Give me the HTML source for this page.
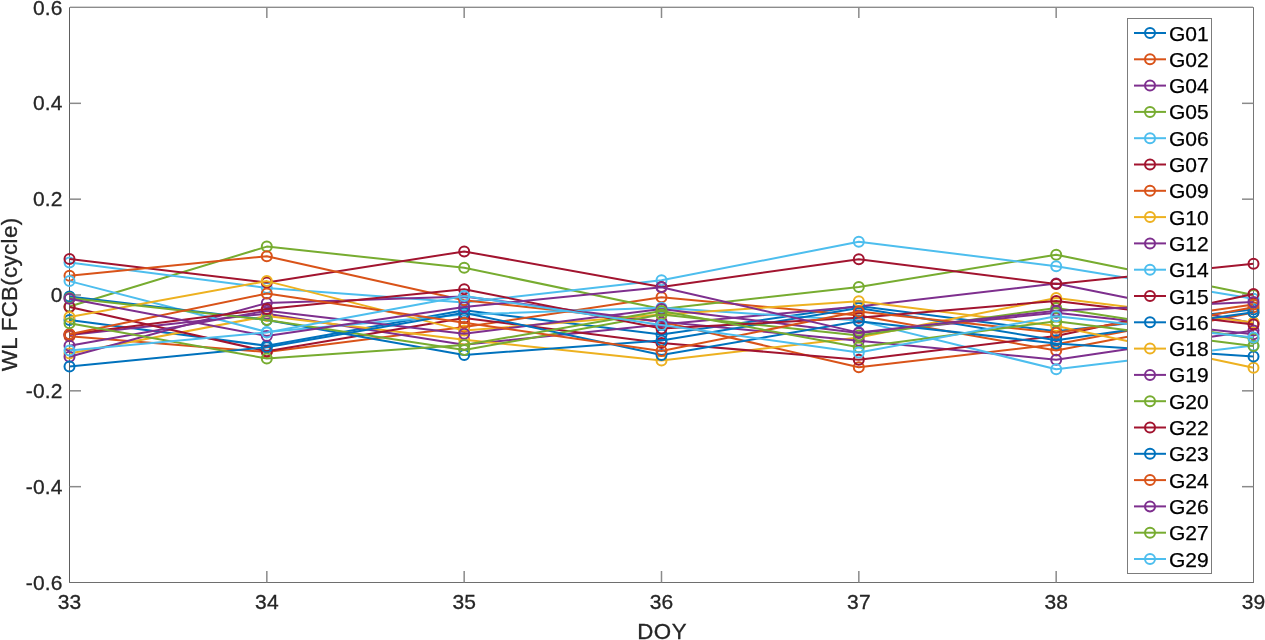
<!DOCTYPE html>
<html lang="en"><head><meta charset="utf-8"><title>WL FCB</title>
<style>html,body{margin:0;padding:0;background:#fff;overflow:hidden}svg{display:block}text{font-family:"Liberation Sans",Arial,Helvetica,sans-serif}.tk{font-size:21px;fill:#262626;letter-spacing:0.15px;stroke:#262626;stroke-width:0.3px}.lb{font-size:22.3px;fill:#262626;letter-spacing:0.35px;stroke:#262626;stroke-width:0.3px}.lg{font-size:21px;fill:#000;stroke:#000;stroke-width:0.25px}</style></head><body>
<svg width="1265" height="640" viewBox="0 0 1265 640">
<rect x="0" y="0" width="1265" height="640" fill="#fff"/>
<g fill="none" stroke-width="1">
<line x1="69.5" y1="7" x2="69.5" y2="583" stroke="#5e5e5e" shape-rendering="crispEdges"/>
<line x1="69" y1="582.5" x2="1254" y2="582.5" stroke="#6e6e6e" shape-rendering="crispEdges"/>
<line x1="1253.5" y1="7" x2="1253.5" y2="583" stroke="#767676" shape-rendering="crispEdges"/>
<line x1="69" y1="7.5" x2="1254" y2="7.5" stroke="#8c8c8c" shape-rendering="crispEdges"/>
<line x1="70" y1="6.5" x2="1253" y2="6.5" stroke="#d4d4d4" shape-rendering="crispEdges"/>
<g stroke="#8a8a8a" stroke-width="1.5">
<line x1="266.83" y1="582.5" x2="266.83" y2="571.0"/>
<line x1="266.83" y1="7.5" x2="266.83" y2="18.0"/>
<line x1="464.17" y1="582.5" x2="464.17" y2="571.0"/>
<line x1="464.17" y1="7.5" x2="464.17" y2="18.0"/>
<line x1="661.50" y1="582.5" x2="661.50" y2="571.0"/>
<line x1="661.50" y1="7.5" x2="661.50" y2="18.0"/>
<line x1="858.83" y1="582.5" x2="858.83" y2="571.0"/>
<line x1="858.83" y1="7.5" x2="858.83" y2="18.0"/>
<line x1="1056.17" y1="582.5" x2="1056.17" y2="571.0"/>
<line x1="1056.17" y1="7.5" x2="1056.17" y2="18.0"/>
<line x1="69.5" y1="103.33" x2="81.0" y2="103.33"/>
<line x1="1253.5" y1="103.33" x2="1242.0" y2="103.33"/>
<line x1="69.5" y1="199.17" x2="81.0" y2="199.17"/>
<line x1="1253.5" y1="199.17" x2="1242.0" y2="199.17"/>
<line x1="69.5" y1="295.00" x2="81.0" y2="295.00"/>
<line x1="1253.5" y1="295.00" x2="1242.0" y2="295.00"/>
<line x1="69.5" y1="390.83" x2="81.0" y2="390.83"/>
<line x1="1253.5" y1="390.83" x2="1242.0" y2="390.83"/>
<line x1="69.5" y1="486.67" x2="81.0" y2="486.67"/>
<line x1="1253.5" y1="486.67" x2="1242.0" y2="486.67"/>
</g></g>
<text class="tk" x="69.6" y="609.0" text-anchor="middle">33</text>
<text class="tk" x="266.9" y="609.0" text-anchor="middle">34</text>
<text class="tk" x="464.3" y="609.0" text-anchor="middle">35</text>
<text class="tk" x="661.6" y="609.0" text-anchor="middle">36</text>
<text class="tk" x="858.9" y="609.0" text-anchor="middle">37</text>
<text class="tk" x="1056.3" y="609.0" text-anchor="middle">38</text>
<text class="tk" x="1253.6" y="609.0" text-anchor="middle">39</text>
<text class="tk" x="62.6" y="14.6" text-anchor="end">0.6</text>
<text class="tk" x="62.6" y="110.4" text-anchor="end">0.4</text>
<text class="tk" x="62.6" y="206.3" text-anchor="end">0.2</text>
<text class="tk" x="62.6" y="302.1" text-anchor="end">0</text>
<text class="tk" x="62.6" y="397.9" text-anchor="end">-0.2</text>
<text class="tk" x="62.6" y="493.8" text-anchor="end">-0.4</text>
<text class="tk" x="62.6" y="589.6" text-anchor="end">-0.6</text>
<text class="lb" style="letter-spacing:0.6px" x="662.2" y="639" text-anchor="middle">DOY</text>
<text class="lb" transform="translate(17.4,294.4) rotate(-90)" text-anchor="middle">WL FCB(cycle)</text>
<defs><clipPath id="c"><rect x="69.5" y="7.5" width="1184.0" height="575.0"/></clipPath></defs>
<g fill="none" stroke-width="2.0" stroke-linejoin="round">
<g stroke="#0072BD"><polyline clip-path="url(#c)" points="69.5,319.9 266.8,345.8 464.2,310.3 661.5,334.6 858.8,306.0 1056.2,331.3 1253.5,309.4"/>
<circle cx="69.5" cy="319.9" r="5.0"/>
<circle cx="266.8" cy="345.8" r="5.0"/>
<circle cx="464.2" cy="310.3" r="5.0"/>
<circle cx="661.5" cy="334.6" r="5.0"/>
<circle cx="858.8" cy="306.0" r="5.0"/>
<circle cx="1056.2" cy="331.3" r="5.0"/>
<circle cx="1253.5" cy="309.4" r="5.0"/>
</g>
<g stroke="#D95319"><polyline clip-path="url(#c)" points="69.5,336.2 266.8,352.0 464.2,327.1 661.5,297.2 858.8,315.6 1056.2,350.6 1253.5,312.5"/>
<circle cx="69.5" cy="336.2" r="5.0"/>
<circle cx="266.8" cy="352.0" r="5.0"/>
<circle cx="464.2" cy="327.1" r="5.0"/>
<circle cx="661.5" cy="297.2" r="5.0"/>
<circle cx="858.8" cy="315.6" r="5.0"/>
<circle cx="1056.2" cy="350.6" r="5.0"/>
<circle cx="1253.5" cy="312.5" r="5.0"/>
</g>
<g stroke="#7E2F8E"><polyline clip-path="url(#c)" points="69.5,335.0 266.8,313.7 464.2,344.7 661.5,324.4 858.8,306.5 1056.2,283.5 1253.5,323.3"/>
<circle cx="69.5" cy="335.0" r="5.0"/>
<circle cx="266.8" cy="313.7" r="5.0"/>
<circle cx="464.2" cy="344.7" r="5.0"/>
<circle cx="661.5" cy="324.4" r="5.0"/>
<circle cx="858.8" cy="306.5" r="5.0"/>
<circle cx="1056.2" cy="283.5" r="5.0"/>
<circle cx="1253.5" cy="323.3" r="5.0"/>
</g>
<g stroke="#77AC30"><polyline clip-path="url(#c)" points="69.5,306.5 266.8,246.6 464.2,267.7 661.5,309.1 858.8,286.9 1056.2,254.7 1253.5,295.0"/>
<circle cx="69.5" cy="306.5" r="5.0"/>
<circle cx="266.8" cy="246.6" r="5.0"/>
<circle cx="464.2" cy="267.7" r="5.0"/>
<circle cx="661.5" cy="309.1" r="5.0"/>
<circle cx="858.8" cy="286.9" r="5.0"/>
<circle cx="1056.2" cy="254.7" r="5.0"/>
<circle cx="1253.5" cy="295.0" r="5.0"/>
</g>
<g stroke="#4DBEEE"><polyline clip-path="url(#c)" points="69.5,262.4 266.8,288.0 464.2,302.4 661.5,280.3 858.8,241.8 1056.2,266.2 1253.5,298.8"/>
<circle cx="69.5" cy="262.4" r="5.0"/>
<circle cx="266.8" cy="288.0" r="5.0"/>
<circle cx="464.2" cy="302.4" r="5.0"/>
<circle cx="661.5" cy="280.3" r="5.0"/>
<circle cx="858.8" cy="241.8" r="5.0"/>
<circle cx="1056.2" cy="266.2" r="5.0"/>
<circle cx="1253.5" cy="298.8" r="5.0"/>
</g>
<g stroke="#A2142F"><polyline clip-path="url(#c)" points="69.5,259.0 266.8,282.5 464.2,251.4 661.5,286.9 858.8,259.3 1056.2,284.0 1253.5,263.8"/>
<circle cx="69.5" cy="259.0" r="5.0"/>
<circle cx="266.8" cy="282.5" r="5.0"/>
<circle cx="464.2" cy="251.4" r="5.0"/>
<circle cx="661.5" cy="286.9" r="5.0"/>
<circle cx="858.8" cy="259.3" r="5.0"/>
<circle cx="1056.2" cy="284.0" r="5.0"/>
<circle cx="1253.5" cy="263.8" r="5.0"/>
</g>
<g stroke="#D95319"><polyline clip-path="url(#c)" points="69.5,275.8 266.8,256.2 464.2,300.3 661.5,321.8 858.8,367.2 1056.2,344.3 1253.5,307.2"/>
<circle cx="69.5" cy="275.8" r="5.0"/>
<circle cx="266.8" cy="256.2" r="5.0"/>
<circle cx="464.2" cy="300.3" r="5.0"/>
<circle cx="661.5" cy="321.8" r="5.0"/>
<circle cx="858.8" cy="367.2" r="5.0"/>
<circle cx="1056.2" cy="344.3" r="5.0"/>
<circle cx="1253.5" cy="307.2" r="5.0"/>
</g>
<g stroke="#EDB120"><polyline clip-path="url(#c)" points="69.5,353.4 266.8,316.1 464.2,339.7 661.5,360.5 858.8,337.6 1056.2,298.1 1253.5,322.5"/>
<circle cx="69.5" cy="353.4" r="5.0"/>
<circle cx="266.8" cy="316.1" r="5.0"/>
<circle cx="464.2" cy="339.7" r="5.0"/>
<circle cx="661.5" cy="360.5" r="5.0"/>
<circle cx="858.8" cy="337.6" r="5.0"/>
<circle cx="1056.2" cy="298.1" r="5.0"/>
<circle cx="1253.5" cy="322.5" r="5.0"/>
</g>
<g stroke="#7E2F8E"><polyline clip-path="url(#c)" points="69.5,356.8 266.8,303.1 464.2,296.4 661.5,321.8 858.8,340.7 1056.2,359.7 1253.5,330.6"/>
<circle cx="69.5" cy="356.8" r="5.0"/>
<circle cx="266.8" cy="303.1" r="5.0"/>
<circle cx="464.2" cy="296.4" r="5.0"/>
<circle cx="661.5" cy="321.8" r="5.0"/>
<circle cx="858.8" cy="340.7" r="5.0"/>
<circle cx="1056.2" cy="359.7" r="5.0"/>
<circle cx="1253.5" cy="330.6" r="5.0"/>
</g>
<g stroke="#4DBEEE"><polyline clip-path="url(#c)" points="69.5,281.1 266.8,331.9 464.2,314.6 661.5,307.8 858.8,320.6 1056.2,369.3 1253.5,345.6"/>
<circle cx="69.5" cy="281.1" r="5.0"/>
<circle cx="266.8" cy="331.9" r="5.0"/>
<circle cx="464.2" cy="314.6" r="5.0"/>
<circle cx="661.5" cy="307.8" r="5.0"/>
<circle cx="858.8" cy="320.6" r="5.0"/>
<circle cx="1056.2" cy="369.3" r="5.0"/>
<circle cx="1253.5" cy="345.6" r="5.0"/>
</g>
<g stroke="#A2142F"><polyline clip-path="url(#c)" points="69.5,307.0 266.8,351.3 464.2,318.0 661.5,342.9 858.8,359.7 1056.2,336.0 1253.5,294.0"/>
<circle cx="69.5" cy="307.0" r="5.0"/>
<circle cx="266.8" cy="351.3" r="5.0"/>
<circle cx="464.2" cy="318.0" r="5.0"/>
<circle cx="661.5" cy="342.9" r="5.0"/>
<circle cx="858.8" cy="359.7" r="5.0"/>
<circle cx="1056.2" cy="336.0" r="5.0"/>
<circle cx="1253.5" cy="294.0" r="5.0"/>
</g>
<g stroke="#0072BD"><polyline clip-path="url(#c)" points="69.5,296.4 266.8,319.9 464.2,354.9 661.5,340.5 858.8,307.9 1056.2,340.3 1253.5,312.2"/>
<circle cx="69.5" cy="296.4" r="5.0"/>
<circle cx="266.8" cy="319.9" r="5.0"/>
<circle cx="464.2" cy="354.9" r="5.0"/>
<circle cx="661.5" cy="340.5" r="5.0"/>
<circle cx="858.8" cy="307.9" r="5.0"/>
<circle cx="1056.2" cy="340.3" r="5.0"/>
<circle cx="1253.5" cy="312.2" r="5.0"/>
</g>
<g stroke="#EDB120"><polyline clip-path="url(#c)" points="69.5,317.0 266.8,281.1 464.2,330.6 661.5,314.6 858.8,301.2 1056.2,326.1 1253.5,367.8"/>
<circle cx="69.5" cy="317.0" r="5.0"/>
<circle cx="266.8" cy="281.1" r="5.0"/>
<circle cx="464.2" cy="330.6" r="5.0"/>
<circle cx="661.5" cy="314.6" r="5.0"/>
<circle cx="858.8" cy="301.2" r="5.0"/>
<circle cx="1056.2" cy="326.1" r="5.0"/>
<circle cx="1253.5" cy="367.8" r="5.0"/>
</g>
<g stroke="#7E2F8E"><polyline clip-path="url(#c)" points="69.5,345.8 266.8,310.8 464.2,333.8 661.5,308.9 858.8,333.1 1056.2,312.7 1253.5,334.3"/>
<circle cx="69.5" cy="345.8" r="5.0"/>
<circle cx="266.8" cy="310.8" r="5.0"/>
<circle cx="464.2" cy="333.8" r="5.0"/>
<circle cx="661.5" cy="308.9" r="5.0"/>
<circle cx="858.8" cy="333.1" r="5.0"/>
<circle cx="1056.2" cy="312.7" r="5.0"/>
<circle cx="1253.5" cy="334.3" r="5.0"/>
</g>
<g stroke="#77AC30"><polyline clip-path="url(#c)" points="69.5,297.9 266.8,319.9 464.2,350.0 661.5,314.6 858.8,335.4 1056.2,307.9 1253.5,338.6"/>
<circle cx="69.5" cy="297.9" r="5.0"/>
<circle cx="266.8" cy="319.9" r="5.0"/>
<circle cx="464.2" cy="350.0" r="5.0"/>
<circle cx="661.5" cy="314.6" r="5.0"/>
<circle cx="858.8" cy="335.4" r="5.0"/>
<circle cx="1056.2" cy="307.9" r="5.0"/>
<circle cx="1253.5" cy="338.6" r="5.0"/>
</g>
<g stroke="#A2142F"><polyline clip-path="url(#c)" points="69.5,334.3 266.8,309.1 464.2,289.2 661.5,328.6 858.8,317.8 1056.2,300.9 1253.5,324.4"/>
<circle cx="69.5" cy="334.3" r="5.0"/>
<circle cx="266.8" cy="309.1" r="5.0"/>
<circle cx="464.2" cy="289.2" r="5.0"/>
<circle cx="661.5" cy="328.6" r="5.0"/>
<circle cx="858.8" cy="317.8" r="5.0"/>
<circle cx="1056.2" cy="300.9" r="5.0"/>
<circle cx="1253.5" cy="324.4" r="5.0"/>
</g>
<g stroke="#0072BD"><polyline clip-path="url(#c)" points="69.5,366.4 266.8,347.2 464.2,312.7 661.5,354.9 858.8,321.3 1056.2,343.4 1253.5,356.6"/>
<circle cx="69.5" cy="366.4" r="5.0"/>
<circle cx="266.8" cy="347.2" r="5.0"/>
<circle cx="464.2" cy="312.7" r="5.0"/>
<circle cx="661.5" cy="354.9" r="5.0"/>
<circle cx="858.8" cy="321.3" r="5.0"/>
<circle cx="1056.2" cy="343.4" r="5.0"/>
<circle cx="1253.5" cy="356.6" r="5.0"/>
</g>
<g stroke="#D95319"><polyline clip-path="url(#c)" points="69.5,334.3 266.8,293.5 464.2,322.8 661.5,351.0 858.8,311.5 1056.2,332.8 1253.5,304.6"/>
<circle cx="69.5" cy="334.3" r="5.0"/>
<circle cx="266.8" cy="293.5" r="5.0"/>
<circle cx="464.2" cy="322.8" r="5.0"/>
<circle cx="661.5" cy="351.0" r="5.0"/>
<circle cx="858.8" cy="311.5" r="5.0"/>
<circle cx="1056.2" cy="332.8" r="5.0"/>
<circle cx="1253.5" cy="304.6" r="5.0"/>
</g>
<g stroke="#7E2F8E"><polyline clip-path="url(#c)" points="69.5,298.8 266.8,336.0 464.2,307.0 661.5,287.2 858.8,332.6 1056.2,310.8 1253.5,301.9"/>
<circle cx="69.5" cy="298.8" r="5.0"/>
<circle cx="266.8" cy="336.0" r="5.0"/>
<circle cx="464.2" cy="307.0" r="5.0"/>
<circle cx="661.5" cy="287.2" r="5.0"/>
<circle cx="858.8" cy="332.6" r="5.0"/>
<circle cx="1056.2" cy="310.8" r="5.0"/>
<circle cx="1253.5" cy="301.9" r="5.0"/>
</g>
<g stroke="#77AC30"><polyline clip-path="url(#c)" points="69.5,323.3 266.8,358.5 464.2,345.0 661.5,311.0 858.8,347.2 1056.2,321.2 1253.5,346.0"/>
<circle cx="69.5" cy="323.3" r="5.0"/>
<circle cx="266.8" cy="358.5" r="5.0"/>
<circle cx="464.2" cy="345.0" r="5.0"/>
<circle cx="661.5" cy="311.0" r="5.0"/>
<circle cx="858.8" cy="347.2" r="5.0"/>
<circle cx="1056.2" cy="321.2" r="5.0"/>
<circle cx="1253.5" cy="346.0" r="5.0"/>
</g>
<g stroke="#4DBEEE"><polyline clip-path="url(#c)" points="69.5,350.6 266.8,332.4 464.2,295.9 661.5,325.0 858.8,352.6 1056.2,316.3 1253.5,337.4"/>
<circle cx="69.5" cy="350.6" r="5.0"/>
<circle cx="266.8" cy="332.4" r="5.0"/>
<circle cx="464.2" cy="295.9" r="5.0"/>
<circle cx="661.5" cy="325.0" r="5.0"/>
<circle cx="858.8" cy="352.6" r="5.0"/>
<circle cx="1056.2" cy="316.3" r="5.0"/>
<circle cx="1253.5" cy="337.4" r="5.0"/>
</g>
</g>
<rect x="1127.5" y="18.5" width="84.0" height="555.0" fill="#fff" stroke="#7c7c7c" stroke-width="1" shape-rendering="crispEdges"/>
<g stroke="#0072BD" stroke-width="2.0" fill="none"><line x1="1134" y1="33.0" x2="1166" y2="33.0"/><circle cx="1150" cy="33.0" r="5.0"/></g>
<text class="lg" x="1168.9" y="40.5">G01</text>
<g stroke="#D95319" stroke-width="2.0" fill="none"><line x1="1134" y1="59.3" x2="1166" y2="59.3"/><circle cx="1150" cy="59.3" r="5.0"/></g>
<text class="lg" x="1168.9" y="66.8">G02</text>
<g stroke="#7E2F8E" stroke-width="2.0" fill="none"><line x1="1134" y1="85.6" x2="1166" y2="85.6"/><circle cx="1150" cy="85.6" r="5.0"/></g>
<text class="lg" x="1168.9" y="93.1">G04</text>
<g stroke="#77AC30" stroke-width="2.0" fill="none"><line x1="1134" y1="111.9" x2="1166" y2="111.9"/><circle cx="1150" cy="111.9" r="5.0"/></g>
<text class="lg" x="1168.9" y="119.4">G05</text>
<g stroke="#4DBEEE" stroke-width="2.0" fill="none"><line x1="1134" y1="138.2" x2="1166" y2="138.2"/><circle cx="1150" cy="138.2" r="5.0"/></g>
<text class="lg" x="1168.9" y="145.7">G06</text>
<g stroke="#A2142F" stroke-width="2.0" fill="none"><line x1="1134" y1="164.5" x2="1166" y2="164.5"/><circle cx="1150" cy="164.5" r="5.0"/></g>
<text class="lg" x="1168.9" y="172.0">G07</text>
<g stroke="#D95319" stroke-width="2.0" fill="none"><line x1="1134" y1="190.8" x2="1166" y2="190.8"/><circle cx="1150" cy="190.8" r="5.0"/></g>
<text class="lg" x="1168.9" y="198.3">G09</text>
<g stroke="#EDB120" stroke-width="2.0" fill="none"><line x1="1134" y1="217.1" x2="1166" y2="217.1"/><circle cx="1150" cy="217.1" r="5.0"/></g>
<text class="lg" x="1168.9" y="224.6">G10</text>
<g stroke="#7E2F8E" stroke-width="2.0" fill="none"><line x1="1134" y1="243.4" x2="1166" y2="243.4"/><circle cx="1150" cy="243.4" r="5.0"/></g>
<text class="lg" x="1168.9" y="250.9">G12</text>
<g stroke="#4DBEEE" stroke-width="2.0" fill="none"><line x1="1134" y1="269.7" x2="1166" y2="269.7"/><circle cx="1150" cy="269.7" r="5.0"/></g>
<text class="lg" x="1168.9" y="277.2">G14</text>
<g stroke="#A2142F" stroke-width="2.0" fill="none"><line x1="1134" y1="296.0" x2="1166" y2="296.0"/><circle cx="1150" cy="296.0" r="5.0"/></g>
<text class="lg" x="1168.9" y="303.5">G15</text>
<g stroke="#0072BD" stroke-width="2.0" fill="none"><line x1="1134" y1="322.3" x2="1166" y2="322.3"/><circle cx="1150" cy="322.3" r="5.0"/></g>
<text class="lg" x="1168.9" y="329.8">G16</text>
<g stroke="#EDB120" stroke-width="2.0" fill="none"><line x1="1134" y1="348.6" x2="1166" y2="348.6"/><circle cx="1150" cy="348.6" r="5.0"/></g>
<text class="lg" x="1168.9" y="356.1">G18</text>
<g stroke="#7E2F8E" stroke-width="2.0" fill="none"><line x1="1134" y1="374.9" x2="1166" y2="374.9"/><circle cx="1150" cy="374.9" r="5.0"/></g>
<text class="lg" x="1168.9" y="382.4">G19</text>
<g stroke="#77AC30" stroke-width="2.0" fill="none"><line x1="1134" y1="401.2" x2="1166" y2="401.2"/><circle cx="1150" cy="401.2" r="5.0"/></g>
<text class="lg" x="1168.9" y="408.7">G20</text>
<g stroke="#A2142F" stroke-width="2.0" fill="none"><line x1="1134" y1="427.5" x2="1166" y2="427.5"/><circle cx="1150" cy="427.5" r="5.0"/></g>
<text class="lg" x="1168.9" y="435.0">G22</text>
<g stroke="#0072BD" stroke-width="2.0" fill="none"><line x1="1134" y1="453.8" x2="1166" y2="453.8"/><circle cx="1150" cy="453.8" r="5.0"/></g>
<text class="lg" x="1168.9" y="461.3">G23</text>
<g stroke="#D95319" stroke-width="2.0" fill="none"><line x1="1134" y1="480.1" x2="1166" y2="480.1"/><circle cx="1150" cy="480.1" r="5.0"/></g>
<text class="lg" x="1168.9" y="487.6">G24</text>
<g stroke="#7E2F8E" stroke-width="2.0" fill="none"><line x1="1134" y1="506.4" x2="1166" y2="506.4"/><circle cx="1150" cy="506.4" r="5.0"/></g>
<text class="lg" x="1168.9" y="513.9">G26</text>
<g stroke="#77AC30" stroke-width="2.0" fill="none"><line x1="1134" y1="532.7" x2="1166" y2="532.7"/><circle cx="1150" cy="532.7" r="5.0"/></g>
<text class="lg" x="1168.9" y="540.2">G27</text>
<g stroke="#4DBEEE" stroke-width="2.0" fill="none"><line x1="1134" y1="559.0" x2="1166" y2="559.0"/><circle cx="1150" cy="559.0" r="5.0"/></g>
<text class="lg" x="1168.9" y="566.5">G29</text>
</svg></body></html>
